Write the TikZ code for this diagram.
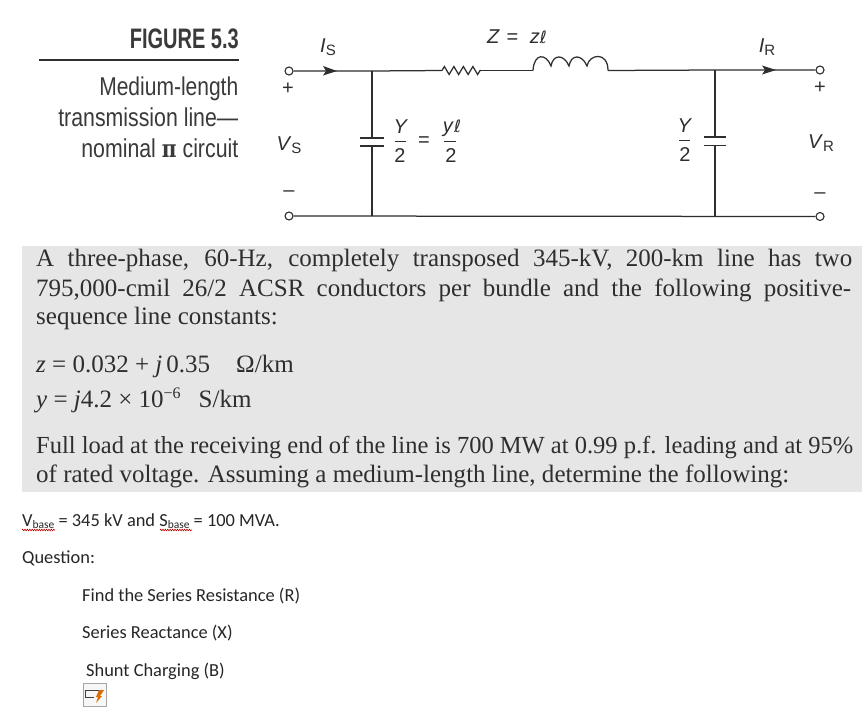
\documentclass[tikz,border=0pt]{standalone}
\usepackage{fontspec}
\setmainfont{Liberation Serif}
\setsansfont{Liberation Sans}
\newfontfamily\calibri{Carlito}
\newfontfamily\dejav{DejaVu Sans}
\newfontfamily\dejaserif{DejaVu Serif}
\newcommand{\lell}{{\dejav\itshape\fontsize{17}{17}\selectfont ℓ}}
\newcommand{\subs}[1]{\raisebox{-2.5pt}{\fontsize{15}{15}\selectfont #1}}
\newcommand{\qsub}[1]{\raisebox{-2pt}{\fontsize{11.5}{11.5}\selectfont #1}}
\usetikzlibrary{arrows.meta,decorations.pathmorphing}
\definecolor{panel}{HTML}{E6E6E6}
\definecolor{ink}{HTML}{2E2E2E}
\definecolor{capcol}{HTML}{3A3A3A}
\tikzset{
 x=1pt,y=-1pt,
 wire/.style={draw=ink,line width=1.25pt},
 termin/.style={circle,draw=ink,line width=1.1pt,fill=white,inner sep=0pt,minimum size=8pt},
 captxt/.style={font=\sffamily\fontsize{18}{18}\selectfont,text=capcol,anchor=east,inner sep=0pt},
 cirtxt/.style={font=\sffamily\fontsize{20}{20}\selectfont,text=ink,inner sep=0pt},
 bodytxt/.style={font=\rmfamily\fontsize{25}{25}\selectfont,text=ink,anchor=west,inner sep=0pt},
 qtxt/.style={font=\calibri\fontsize{18.4}{18.4}\selectfont,text=black!85,anchor=west,inner sep=0pt},
}
\begin{document}
\begin{tikzpicture}
\useasboundingbox (0,0) rectangle (866,715);
\fill[white] (0,0) rectangle (866,715);
\fill[panel] (22,245.5) rectangle (862,492);
% caption
\node[captxt] (fig) at (239,39) {\resizebox*{109pt}{20pt}{\bfseries FIGURE 5.3}};
\draw[ink,line width=2pt] (39,59.5) -- (239,59.5);
\node[captxt] (c1) at (238.5,88.5) {\resizebox*{139pt}{24pt}{Medium-length}};
\node[captxt] (c2) at (238.5,117) {\resizebox*{180pt}{19pt}{transmission line—}};
\node[captxt] (c3) at (238.5,148.5) {\resizebox*{157pt}{19pt}{nominal {\dejaserif\bfseries\fontsize{17}{17}\selectfont π} circuit}};
% terminals
\node[termin] (tl) at (289,71) {};
\node[termin] (bl) at (289,216) {};
\node[termin] (tr) at (820,70) {};
\node[termin] (br) at (820,216.5) {};
\coordinate (jl) at (372,71);
\coordinate (jr) at (715,70);
\coordinate (jlb) at (372,216);
\coordinate (jrb) at (715,216);
\coordinate (rs) at (442,70.5);
\coordinate (re) at (481,70.5);
\coordinate (ls) at (533,70.5);
\coordinate (le) at (608,70.5);
% wires
\draw[wire] (tl) -- (jl) -- (rs);
\draw[wire,decorate,decoration={zigzag,segment length=9.5pt,amplitude=4pt}] (rs) -- (re);
\draw[wire] (re) -- (ls);
\draw[wire] (ls) .. controls (534,53) and (546,53) .. (551,66)
 .. controls (553,54) and (564,54) .. (569,66)
 .. controls (571,54) and (582,54) .. (587,66)
 .. controls (589,54) and (608,51) .. (608,70.5);
\draw[wire] (le) -- (jr) -- (tr);
\draw[wire] (bl) -- (br);
% arrowheads
\fill[ink] (323,66) -- (337,71) -- (323,75.5) -- (326,71) -- cycle;
\fill[ink] (762,65.5) -- (776,70) -- (762,74.5) -- (765,70) -- cycle;
% capacitors
\draw[wire] (jl) -- (372,138);
\draw[wire] (372,146) -- (jlb);
\draw[ink,line width=1.8pt] (360,138) -- (384,138);
\draw[ink,line width=1.8pt] (360,146) -- (384,146);
\draw[wire] (jr) -- (715,136);
\draw[wire] (715,146) -- (jrb);
\draw[ink,line width=1.8pt] (704,137) -- (726,137);
\draw[ink,line width=1.8pt] (704,145.5) -- (726,145.5);
% circuit labels
\node[cirtxt] (is) at (328,47) {\textit{I}\subs{S}};
\node[cirtxt] (ir) at (767,47) {\textit{I}\subs{R}};
\node[cirtxt] (vs) at (289,145) {\textit{V}\subs{S}};
\node[cirtxt] (vr) at (821,143) {\textit{V}\subs{R}};
\node[cirtxt] (z) at (517,36.5) {\textit{Z} \hspace{1pt}= \hspace{6pt}\textit{z}\lell};
\node[cirtxt] (pl) at (288,89) {+};
\node[cirtxt] (pr) at (820,88) {+};
\node[cirtxt] (ml) at (289,194) {–};
\node[cirtxt] (mr) at (820,196) {–};
% fractions
\node[cirtxt] (y1) at (401,127) {\textit{Y}};
\draw[ink,line width=0.7pt] (395,141) -- (406,141);
\node[cirtxt] (t1) at (400,156) {2};
\node[cirtxt] (eq) at (424,142) {=};
\node[cirtxt] (y2) at (452,128) {\textit{y}\lell};
\draw[ink,line width=0.7pt] (444,141) -- (456,141);
\node[cirtxt] (t2) at (451,156) {2};
\node[cirtxt] (y3) at (685,126) {\textit{Y}};
\draw[ink,line width=0.7pt] (679,140) -- (690,140);
\node[cirtxt] (t3) at (685,155) {2};
% body
\node[bodytxt] (b1) at (36,261) {\makebox[816pt][s]{A three-phase, 60-Hz, completely transposed 345-kV, 200-km line has two}};
\node[bodytxt] (b2) at (36,290) {\makebox[815pt][s]{795,000-cmil 26/2 ACSR conductors per bundle and the following positive-}};
\node[bodytxt] (b3) at (36,318.5) {sequence line constants:};
\node[bodytxt] (e1) at (36,366) {\textit{z} = 0.032 + \textit{j}\,0.35\hspace{26pt}Ω/km};
\node[bodytxt] (e2) at (36,400) {\textit{y} = \textit{j}4.2 × 10\raisebox{9pt}{\fontsize{16}{16}\selectfont −6}\hspace{18pt}S/km};
\node[bodytxt] (b4) at (36,447.5) {\resizebox{817pt}{!}{Full load at the receiving end of the line is 700 MW at 0.99 p.f. leading and at 95\%}};
\node[bodytxt] (b5) at (36,476) {\resizebox{753pt}{!}{of rated voltage. Assuming a medium-length line, determine the following:}};
% questions
\node[qtxt] (q1) at (22,521.5) {V\qsub{base} = 345 kV and S\qsub{base} = 100 MVA.};
\draw[red!75!black,line width=0.6pt,decorate,decoration={zigzag,segment length=2.4pt,amplitude=0.8pt}] (22,530) -- (55,530);
\draw[red!75!black,line width=0.6pt,decorate,decoration={zigzag,segment length=2.4pt,amplitude=0.8pt}] (160,530) -- (192,530);
\node[qtxt] (q2) at (22,558.5) {Question:};
\node[qtxt] (q3) at (82,596.5) {Find the Series Resistance (R)};
\node[qtxt] (q4) at (82,633.5) {Series Reactance (X)};
\node[qtxt] (q5) at (86,671.5) {Shunt Charging (B)};
% paste icon
\draw[black!35,fill=white!97!black,line width=0.8pt] (83,683) rectangle (106,706.5);
\draw[black!75,line width=1pt] (101,690.5) -- (85.5,690.5) -- (85.5,697.5) -- (94,697.5);
\fill[orange!85!black] (104,690) -- (99,690) -- (96,697) -- (98,697) -- (96,703) -- (102,696) -- (100,696) -- cycle;
\end{tikzpicture}
\end{document}
